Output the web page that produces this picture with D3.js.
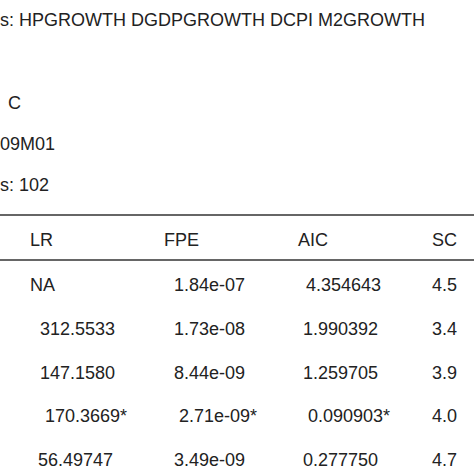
<!DOCTYPE html><html><head><meta charset="utf-8"><script src="https://d3js.org/d3.v7.min.js"></script>
<style>body{margin:0;background:#fff}text{font-family:"Liberation Sans",Arial,sans-serif;fill:#222}</style></head><body><svg id="c" width="474" height="474"></svg>
<script>
const headerLines=["s: HPGROWTH DGDPGROWTH DCPI M2GROWTH","","C","09M01","s: 102"];
const columns=["LR","FPE","AIC","SC"];
const lr=["NA","312.5533","147.1580","170.3669*","56.49747"];
const fpe=["1.84e-07","1.73e-08","8.44e-09","2.71e-09*","3.49e-09"];
const aic=["4.354643","1.990392","1.259705","0.090903*","0.277750"];
const sc=["4.5","3.4","3.9","4.0","4.7"];
const svg=d3.select("#c");
const fs=18;
const yTop=d3.scalePoint().domain(d3.range(headerLines.length)).range([20,185]);
svg.selectAll(".h").data(headerLines).join("text").attr("x",d=>d==="C"?8:0).attr("y",(d,i)=>yTop(i)+6).attr("font-size",fs).text(d=>d);
const x=d3.scalePoint().domain(columns).range([30,432]);
const lineY=[215,260];
svg.selectAll("line").data(lineY).join("line").attr("x1",0).attr("x2",474).attr("y1",d=>d).attr("y2",d=>d).attr("stroke","#333").attr("stroke-width",1.5);
svg.selectAll(".col").data(columns).join("text").attr("x",d=>x(d)).attr("y",246).attr("font-size",fs).text(d=>d);
const y=d3.scalePoint().domain(d3.range(5)).range([291,466]);
const off={LR:[0,10,10,15,8],FPE:[10,10,10,15,10],AIC:[8,5,5,10,5],SC:[0,0,0,0,0]};
const cols={LR:lr,FPE:fpe,AIC:aic,SC:sc};
columns.forEach(c=>{svg.selectAll(".v"+c).data(cols[c]).join("text").attr("x",(d,i)=>x(c)+off[c][i]).attr("y",(d,i)=>y(i)).attr("font-size",fs).text(d=>d);});
</script></body></html>
